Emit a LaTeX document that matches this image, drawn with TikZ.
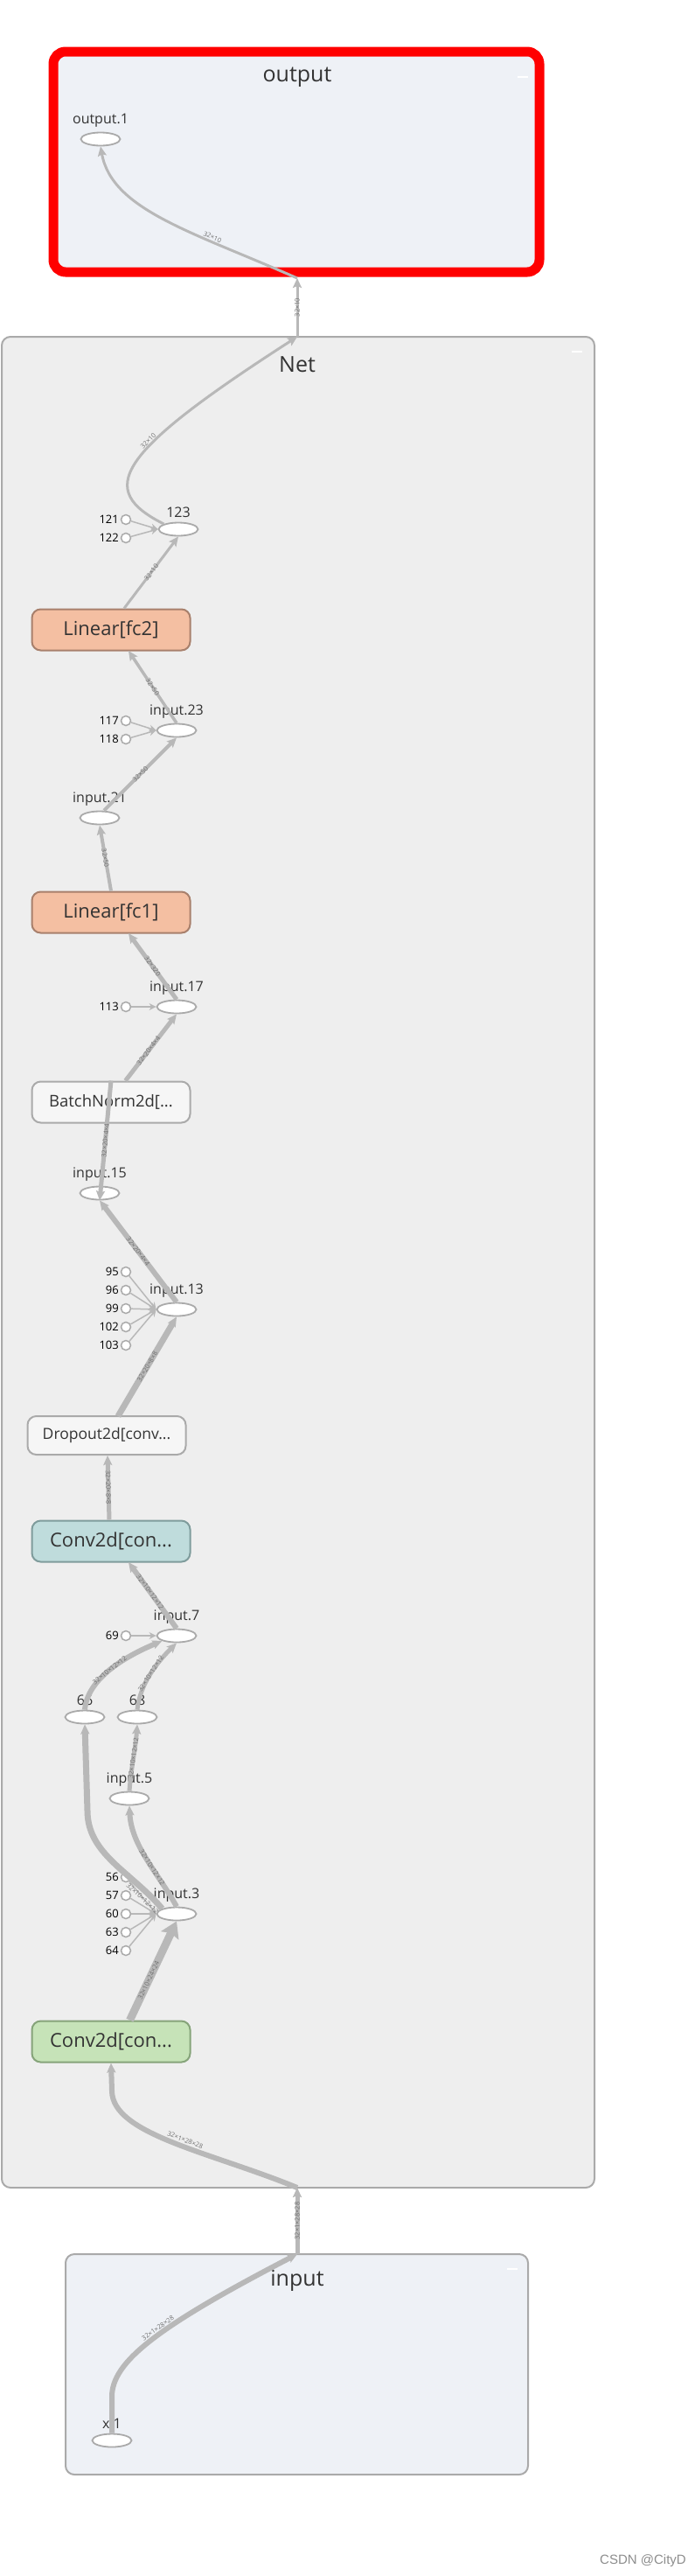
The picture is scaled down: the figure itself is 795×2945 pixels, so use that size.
\documentclass[tikz,border=0pt]{standalone}
\usepackage{fontspec}
\setmainfont{Open Sans}
\newfontfamily\wmfont{Liberation Sans}
\usetikzlibrary{arrows.meta,shapes.geometric,positioning}
\definecolor{edgec}{HTML}{B8B8B8}
\definecolor{lblc}{HTML}{707070}
\definecolor{txtc}{HTML}{333333}
\definecolor{grpfill}{HTML}{EEF1F6}
\definecolor{netfill}{HTML}{EEEEEE}
\definecolor{grpline}{HTML}{AAAAAA}
\definecolor{linfill}{HTML}{F4BFA2}
\definecolor{linline}{HTML}{A8806C}
\definecolor{tealfill}{HTML}{BFDCDC}
\definecolor{tealline}{HTML}{7F9C9C}
\definecolor{grnfill}{HTML}{C6E3B8}
\definecolor{grnline}{HTML}{86A47A}
\tikzset{
 opnode/.style={ellipse,draw=grpline,fill=white,line width=1.8pt,minimum width=45pt,minimum height=15pt,inner sep=0pt},
 constnode/.style={circle,draw=grpline,fill=white,line width=1.5pt,minimum size=11pt,inner sep=0pt},
 modbox/.style={rounded corners=10pt,line width=2pt,minimum width=181pt,minimum height=47pt,inner sep=0pt,text=txtc,font=\fontsize{22}{26}\selectfont},
 nlabel/.style={text=txtc,font=\fontsize{16}{19}\selectfont,inner sep=0pt},
 clabel/.style={text=black,font=\fontsize{13}{15}\selectfont,inner sep=0pt,anchor=east},
 edge/.style={draw=edgec,-{Stealth[length=11pt,width=10pt,inset=2pt]}},
 bigedge/.style={draw=edgec,-{Stealth[length=18pt,width=22pt,inset=3pt]}},
 thinedge/.style={draw=edgec,line width=1.5pt,-{Stealth[length=8pt,width=8pt]}},
 elab/.style={sloped,text=lblc,font=\fontsize{7.5}{8}\selectfont,inner sep=0pt,fill=none},
 gtitle/.style={text=txtc,font=\fontsize{25}{29}\selectfont,inner sep=0pt},
}
\begin{document}
\begin{tikzpicture}[x=1pt,y=-1pt]
\useasboundingbox (0,0) rectangle (795,2945);
\fill[white] (0,0) rectangle (795,2945);
% groups
\draw[red,line width=11pt,fill=grpfill,rounded corners=14pt] (61,59) rectangle (617,311);
\node[gtitle] (tout) at (340,88) {output};
\draw[white,line width=2pt] (592,88) -- (604,88);
\draw[grpline,line width=2pt,fill=netfill,rounded corners=10pt] (2,385) rectangle (680,2501);
\node[gtitle] (tnet) at (340,417) {Net};
\draw[white,line width=2pt] (654,402) -- (666,402);
\draw[grpline,line width=2pt,fill=grpfill,rounded corners=10pt] (75,2577) rectangle (604,2829);
\node[gtitle] (tin) at (340,2607) {input};
\draw[white,line width=2pt] (580,2594) -- (592,2594);
\node[text=lblc!80,font=\wmfont\fontsize{15}{17}\selectfont,anchor=south east,inner sep=0pt] (wm) at (785,2935) {CSDN @CityD};
% coordinates
\coordinate (outIn) at (340,318);
\coordinate (netTop) at (340,385);
\coordinate (netBot) at (340,2501);
\coordinate (inTop) at (340,2577);
% nodes
\node[opnode] (out1) at (115,159) {};
\node[nlabel,above=5pt of out1.north] (lout1) {output.1};
\node[opnode] (n123) at (204,605) {};
\node[nlabel,above=5pt of n123.north] (l123) {123};
\node[constnode] (c121) at (144,594) {}; \node[clabel] at (136,594) {121};
\node[constnode] (c122) at (144,615) {}; \node[clabel] at (136,615) {122};
\node[modbox,draw=linline,fill=linfill] (fc2) at (127,720) {Linear[fc2]};
\node[opnode] (in23) at (202,835) {};
\node[nlabel,above=5pt of in23.north] (l23) {input.23};
\node[constnode] (c117) at (144,824) {}; \node[clabel] at (136,824) {117};
\node[constnode] (c118) at (144,845) {}; \node[clabel] at (136,845) {118};
\node[opnode] (in21) at (114,935) {};
\node[nlabel,above=5pt of in21.north] (l21) {input.21};
\node[modbox,draw=linline,fill=linfill] (fc1) at (127,1043) {Linear[fc1]};
\node[opnode] (in17) at (202,1151) {};
\node[nlabel,above=5pt of in17.north] (l17) {input.17};
\node[constnode] (c113) at (144,1151) {}; \node[clabel] at (136,1151) {113};
\node[modbox,draw=grpline,fill=netfill!50!white,font=\fontsize{18.5}{22}\selectfont] (bn) at (127,1260) {BatchNorm2d[...};
\node[opnode] (in15) at (114,1364) {};
\node[nlabel,above=5pt of in15.north] (l15) {input.15};
\node[opnode] (in13) at (202,1497) {};
\node[nlabel,above=5pt of in13.north] (l13) {input.13};
\foreach \n/\y in {95/1454,96/1475,99/1496,102/1517,103/1538}{
 \node[constnode] (c\n) at (144,\y) {}; \node[clabel] at (136,\y) {\n};}
\node[modbox,draw=grpline,fill=netfill!50!white,font=\fontsize{17.5}{21}\selectfont,minimum height=44pt] (drop) at (122,1641) {Dropout2d[conv...};
\node[modbox,draw=tealline,fill=tealfill] (conv2) at (127,1762) {Conv2d[con...};
\node[opnode] (in7) at (202,1870) {};
\node[nlabel,above=5pt of in7.north] (l7) {input.7};
\node[constnode] (c69) at (144,1870) {}; \node[clabel] at (136,1870) {69};
\node[opnode] (n66) at (97,1963) {};
\node[nlabel,above=5pt of n66.north] (l66) {66};
\node[opnode] (n68) at (157,1963) {};
\node[nlabel,above=5pt of n68.north] (l68) {68};
\node[opnode] (in5) at (148,2056) {};
\node[nlabel,above=5pt of in5.north] (l5) {input.5};
\node[opnode] (in3) at (202,2188) {};
\node[nlabel,above=5pt of in3.north] (l3) {input.3};
\foreach \n/\y in {56/2146,57/2167,60/2188,63/2209,64/2230}{
 \node[constnode] (c\n) at (144,\y) {}; \node[clabel] at (136,\y) {\n};}
\node[modbox,draw=grnline,fill=grnfill] (conv1) at (127,2334) {Conv2d[con...};
\node[opnode] (x1) at (128,2790) {};
\node[nlabel,above=5pt of x1.north] (lx1) {x.1};
% edges
\draw[edge,line width=6pt] (x1.north) -- (128,2740) .. controls (128,2700) and (180,2660) .. node[elab,above=1pt,pos=0.55]{32×1×28×28} (inTop);
\draw[edge,line width=5pt] (inTop) -- node[elab,pos=0.5]{32×1×28×28} (netBot);
\draw[edge,line width=6pt] (netBot) .. controls (240,2460) and (128,2440) .. node[elab,above=2pt,pos=0.45]{32×1×28×28} (128,2390) -- (conv1.south);
\draw[bigedge,line width=9pt] (conv1.north east) ++(-70,0) -- node[elab,pos=0.4]{32×10×24×24} (in3.south);
\foreach \n in {56,57,60,63,64}{\draw[thinedge] (c\n) -- (in3.west);}
\draw[edge,line width=7pt] (in3.north west) .. controls (150,2140) and (100,2120) .. node[elab,pos=0.15,below=2pt]{32×10×12×12} (100,2070) -- (n66.south);
\draw[edge,line width=6pt] (in3.north) .. controls (180,2140) and (150,2110) .. node[elab,pos=0.4]{32×10×12×12} (in5.south);
\draw[edge,line width=5pt] (in5.north) .. controls (150,2020) and (155,2000) .. node[elab,pos=0.5]{32×10×12×12} (n68.south);
\draw[edge,line width=6pt] (n66.north) .. controls (100,1920) and (140,1895) .. node[elab,pos=0.5]{32×10×12×12} (in7.south west);
\draw[edge,line width=5pt] (n68.north) .. controls (160,1925) and (180,1900) .. node[elab,pos=0.5]{32×10×12×12} (in7.south);
\draw[thinedge] (c69) -- (in7.west);
\draw[edge,line width=6pt] (in7.north) -- node[elab,pos=0.55]{32×10×12×12} (147,1786);
\draw[edge,line width=5pt] (conv2.north) ++(-2,0) -- node[elab,pos=0.5]{32×20×8×8} (123,1664);
\draw[edge,line width=7pt] (135,1619) -- node[elab,pos=0.5]{32×20×8×8} (in13.south);
\foreach \n in {95,96,99,102,103}{\draw[thinedge] (c\n) -- (in13.west);}
\draw[edge,line width=6pt] (in13.north) -- node[elab,pos=0.5]{32×20×4×4} (in15.south);
\draw[edge,line width=5pt] (bn.north) -- node[elab,pos=0.5]{32×20×4×4} (in15.south);
\draw[edge,line width=5pt] (bn.north east) ++(-75,0) -- node[elab,pos=0.45]{32×20×4×4} (in17.south);
\draw[thinedge] (c113) -- (in17.west);
\draw[edge,line width=5pt] (in17.north) -- node[elab,pos=0.5]{32×320} (147,1067);
\draw[edge,line width=4pt] (fc1.north) -- node[elab,pos=0.5]{32×50} (in21.south);
\draw[edge,line width=4pt] (in21.north) ++(5,0) -- node[elab,pos=0.5]{32×50} (in23.south);
\foreach \n in {117,118}{\draw[thinedge] (c\n) -- (in23.west);}
\draw[edge,line width=3.5pt] (in23.north) -- node[elab,pos=0.5]{32×50} (147,744);
\draw[edge,line width=3pt] (fc2.north) ++(15,0) -- node[elab,pos=0.5]{32×10} (n123.south);
\foreach \n in {121,122}{\draw[thinedge] (c\n) -- (n123.west);}
\draw[edge,line width=3pt] (n123.north west) .. controls (110,560) and (130,520) .. node[elab,pos=0.6,above=1pt]{32×10} (netTop);
\draw[edge,line width=3pt] (netTop) -- node[elab,pos=0.5]{32×10} (outIn);
\draw[edge,line width=3pt] (outIn) .. controls (220,265) and (128,240) .. node[elab,pos=0.3,above=1pt]{32×10} (out1.south);
\end{tikzpicture}
\end{document}
